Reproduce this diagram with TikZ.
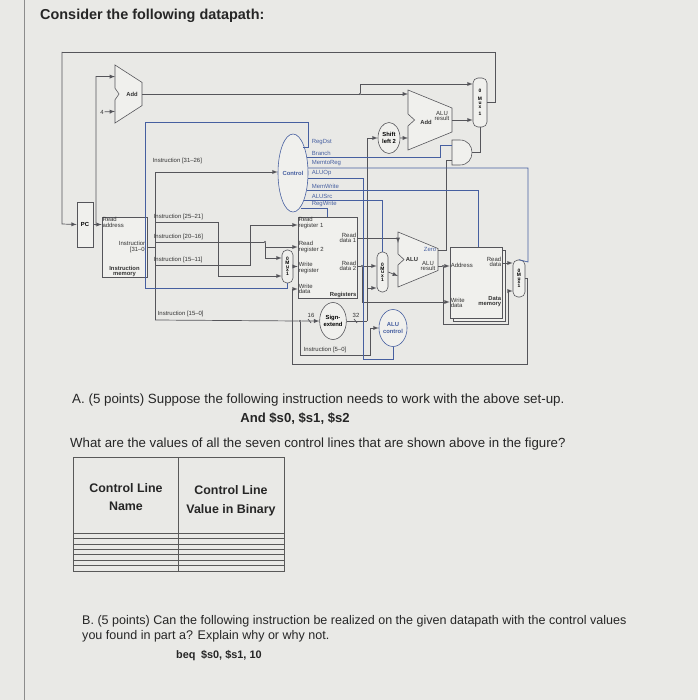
\documentclass[tikz,border=0pt]{standalone}
\usepackage{fontspec}
\setmainfont{Liberation Sans}
\usetikzlibrary{positioning,shapes.geometric}
\newcommand\pxl{0.3mm}
\newcommand\aluShape[5]{%
  \draw[unit] (#2,#3) -- (#4,{#3+0.3*(#5-#3)}) -- (#4,{#5-0.3*(#5-#3)}) -- (#2,#5)
    -- (#2,{#3+0.6*(#5-#3)}) -- ({#2+0.15*(#4-#2)},{0.5*(#3+#5)}) -- (#2,{#3+0.4*(#5-#3)}) -- cycle;
  \coordinate (#1-a) at (#2,{#3+0.2*(#5-#3)});
  \coordinate (#1-b) at (#2,{#3+0.8*(#5-#3)});
  \coordinate (#1-o) at (#4,{0.5*(#3+#5)});
  \coordinate (#1-s) at ({0.5*(#2+#4)},{#5-0.15*(#5-#3)});}
\definecolor{paper}{RGB}{233,233,230}
\definecolor{wire}{RGB}{85,85,90}
\definecolor{ctl}{RGB}{70,95,160}
\tikzset{
  unit/.style={draw=wire, line width=0.5pt, fill=paper!70!white},
  wr/.style={draw=wire, line width=0.6pt, -latex},
  wn/.style={draw=wire, line width=0.6pt},
  cs/.style={draw=ctl, line width=0.6pt},
  box/.style={unit, rectangle, inner sep=0pt},
  blob/.style={unit, ellipse, inner sep=0pt, font=\fontsize{5}{5.4}\selectfont\bfseries, align=center},
  mux/.style={unit, rectangle, rounded corners=5*\pxl, inner sep=0pt, minimum width=11*\pxl,
    font=\fontsize{4.2}{4.5}\selectfont\bfseries, align=center},
  lbl/.style={font=\fontsize{5.1}{5.4}\selectfont, text=black!80, inner sep=0.5pt},
  clbl/.style={lbl, text=ctl, anchor=south west},
  dot/.style={circle, fill=wire, inner sep=0pt, minimum size=2.2*\pxl},
  txt/.style={anchor=west, inner sep=0pt, text=black!85}
}
\begin{document}
\begin{tikzpicture}[x=\pxl, y=-\pxl]
    \fill[paper] (0,0) rectangle (698,700);
    \useasboundingbox (0,0) rectangle (698,700);
    \draw[black!45, line width=0.8pt] (24,0) -- (24,700);

    \node[txt, font=\fontsize{12.3}{14}\selectfont\bfseries] (title) at (40,16) {Consider the following datapath:};

    % blocks
    \node[box, minimum width=16*\pxl, minimum height=45*\pxl, font=\fontsize{5}{5.4}\selectfont\bfseries] (pc) at (85,224.5) {PC};
    \node[box, minimum width=45*\pxl, minimum height=60*\pxl] (imem) at (124.5,247) {};
    \node[lbl, anchor=north west, align=left] at (imem.north west) {Read\\[-1pt]address};
    \node[lbl, anchor=east, align=right] at (imem.east) {Instruction\\[-1pt]{[31--0]}};
    \node[lbl, anchor=south, align=center, font=\fontsize{5}{5.4}\selectfont\bfseries] at (imem.south) {Instruction\\[-1pt]memory};
    \node[box, minimum width=59*\pxl, minimum height=81*\pxl] (regs) at (327.5,257.5) {};
    \node[lbl, anchor=north west, align=left] at (regs.north west) {Read\\[-1pt]register 1};
    \node[lbl, anchor=west, align=left] at (298,247) {Read\\[-1pt]register 2};
    \node[lbl, anchor=west, align=left] at (298,268) {Write\\[-1pt]register};
    \node[lbl, anchor=west, align=left] at (298,289) {Write\\[-1pt]data};
    \node[lbl, anchor=east, align=right] at (357,238) {Read\\[-1pt]data 1};
    \node[lbl, anchor=east, align=right] at (357,266) {Read\\[-1pt]data 2};
    \node[lbl, anchor=south east, font=\fontsize{5}{5.4}\selectfont\bfseries] at (regs.south east) {Registers};
    \draw[unit] (453,250) rectangle (505,321);
    \node[box, minimum width=52*\pxl, minimum height=71*\pxl] (dmem) at (476,282.5) {};
    \node[lbl, anchor=west] at (450,265) {Address};
    \node[lbl, anchor=east, align=right] at (502,262) {Read\\[-1pt]data};
    \node[lbl, anchor=west, align=left] at (450,303) {Write\\[-1pt]data};
    \node[lbl, anchor=east, align=right, font=\fontsize{5}{5.4}\selectfont\bfseries] at (502,302) {Data\\[-1pt]memory};

    \node[blob, draw=ctl, minimum width=30*\pxl, minimum height=78*\pxl, text=ctl] (ctrl) at (293,173) {Control};
    \node[blob, minimum width=25*\pxl, minimum height=37*\pxl] (sext) at (333,321) {Sign-\\extend};
    \node[blob, minimum width=22*\pxl, minimum height=31*\pxl] (shl) at (389,138) {Shift\\left 2};
    \node[blob, draw=ctl, minimum width=27*\pxl, minimum height=37*\pxl, text=ctl] (aluc) at (393,328) {ALU\\control};

    \node[mux, minimum height=33*\pxl] (mreg) at (287.5,266.5) {0\\[-1pt]M\\[-1.5pt]u\\[-1.5pt]x\\[-1pt]1};
    \node[mux, minimum height=40*\pxl] (msrc) at (382.5,272) {0\\[-1pt]M\\[-1.5pt]u\\[-1.5pt]x\\[-1pt]1};
    \node[mux, minimum height=37*\pxl, minimum width=12*\pxl] (mmem) at (519,278.5) {0\\[-1pt]M\\[-1.5pt]u\\[-1.5pt]x\\[-1pt]1};
    \node[mux, minimum height=49*\pxl, minimum width=14*\pxl] (mpc) at (480,102.5) {0\\[2pt]M\\[-1pt]u\\[-1pt]x\\[2pt]1};

    \aluShape{addpc}{115}{65}{142}{123}
    \node[lbl, font=\fontsize{5}{5.4}\selectfont\bfseries] at (132,94) {Add};
    \aluShape{addbr}{408}{90}{452}{150}
    \node[lbl, font=\fontsize{5}{5.4}\selectfont\bfseries] at (426,122) {Add};
    \node[lbl, align=center] at (442,116) {ALU\\[-1pt]result};
    \aluShape{alu}{398}{232}{438}{287}
    \node[lbl, font=\fontsize{5}{5.4}\selectfont\bfseries] at (412,260) {ALU};
    \node[lbl, align=center] at (428,266) {ALU\\[-1pt]result};
    \node[lbl, text=ctl] at (430,249) {Zero};
    \draw[unit] (452,140) -- (460,140) .. controls (476,140) and (476,165) .. (460,165) -- (452,165) -- cycle;
    \coordinate (andg) at (472,152.5);

    % instruction path
    \node[lbl] (four) at (102,112) {4};
    \draw[wr] (62,52) coordinate (tl) -- (62,224) -- (pc.west);
    \draw[wr] (pc.east) -- (imem.west |- pc.east);
    \node[dot] (pcj) at (96,224.5) {};
    \draw[wr] (pcj) -- (96,76.6) -- (addpc-a);
    \draw[wr] (four) -- (addpc-b);
    \draw[wn] (addpc-o) -- (360,94);
    \node[dot] (pc4) at (360,94) {};
    \draw[wr] (pc4) -- (360,84) -- (mpc.west |- 0,84);
    \draw[wr] (pc4) -- (addbr-a |- pc4);
    \draw[wr] (addbr-o) -- (mpc.west |- addbr-o);
    \draw[wn] (mpc.east) -- (495,102.5) -- (495,52) -- (tl);

    \draw[wn] (imem.east) -- (155,247);
    \draw[wn] (155,172) -- (155,320);
    \draw[wr] (155,172) -- (ctrl.west |- 0,172);
    \node[lbl, anchor=south west] at (152,165) {Instruction [31--26]};
    \draw[wr] (155,222) -- (218,222) -- (218,276) -- (mreg.west |- 0,276);
    \node[lbl, anchor=south west] at (153,221) {Instruction [25--21]};
    \node[dot] (i2016) at (265,242) {};
    \draw[wr] (155,242) -- (i2016) -- (265,247) -- (regs.west |- 0,247);
    \draw[wr] (i2016) -- (265,258) -- (mreg.west |- 0,258);
    \node[lbl, anchor=south west] at (153,241) {Instruction [20--16]};
    \draw[wr] (155,265) -- (250,265) -- (250,225) -- (regs.west |- 0,225);
    \node[lbl, anchor=south west] at (153,264) {Instruction [15--11]};
    \draw[wr] (mreg.east) -- (regs.west |- mreg.east);
    \node[dot] (i150) at (300,321) {};
    \draw[wr] (155,320) -- (i150) -- (sext.west);
    \node[lbl, anchor=south west] at (157,318) {Instruction [15--0]};
    \node[lbl] at (311,315) {16};
    \draw[wn] (308,319) -- (311,323);
    \draw[wr] (i150) -- (300,355) -- (370,355) -- (370,328) -- (aluc.west);
    \node[lbl, anchor=south west] at (303,354) {Instruction [5--0]};

    % data path
    \draw[wn] (sext.east) -- (367,321);
    \node[lbl] at (356,315) {32};
    \draw[wn] (354,319) -- (357,323);
    \draw[wr] (367,321) -- (367,288) -- (msrc.west |- 0,288);
    \draw[wr] (367,288) -- (367,138) -- (shl.west);
    \draw[wr] (shl.east) -- (addbr-b);
    \draw[wr] (regs.east |- 0,238) -- (398,238) -- (alu-a);
    \node[dot] (rd2) at (362,266) {};
    \draw[wr] (regs.east |- rd2) -- (rd2) -- (msrc.west |- rd2);
    \draw[wr] (rd2) -- (362,302) -- (dmem.west |- 0,302);
    \draw[wr] (msrc.east) -- (alu-b);
    \node[dot] (res) at (443,266) {};
    \draw[wr] (438,266) -- (res) -- (dmem.west |- res);
    \draw[wr] (res) -- (443,324) -- (508,324) -- (508,291) -- (mmem.west |- 0,291);
    \draw[wr] (dmem.east |- 0,263) -- (mmem.west |- 0,263);
    \draw[wr] (mmem.east) -- (527,278.5) -- (527,364) -- (292,364) -- (292,289) -- (regs.west |- 0,289);
    \draw[wn] (438,250) -- (446,250) -- (446,160) -- (452,160);
    \draw[wn] (andg) -- (480,152.5) -- (mpc.south);

    % control lines
    \draw[cs] (303,147) -- (308,147) -- (308,122) -- (145,122) -- (145,288) -- (287.5,288) -- (mreg.south);
    \draw[cs] (306.5,157) -- (440,157) -- (440,145) -- (452,145);
    \draw[cs] (308,168) -- (528,168) -- (528,262) -- (mmem.north);
    \draw[cs] (308,178) -- (363,178) -- (363,359) -- (393,359) -- (aluc.south);
    \draw[cs] (306.5,190) -- (478,190) -- (dmem.north -| 478,0);
    \draw[cs] (304,200) -- (382.5,200) -- (msrc.north);
    \draw[cs] (300.5,208) -- (327.5,208) -- (regs.north);
    \node[clbl] at (311,146) {RegDst};
    \node[clbl] at (311,156) {Branch};
    \node[clbl] at (311,167) {MemtoReg};
    \node[clbl] at (311,177) {ALUOp};
    \node[clbl] at (311,189) {MemWrite};
    \node[clbl] at (311,199) {ALUSrc};
    \node[clbl] at (311,207.5) {RegWrite};

    % question text
    \node[txt, font=\fontsize{11.4}{13}\selectfont] (qa) at (72,400) {A. (5 points) Suppose the following instruction needs to work with the above set-up.};
    \node[font=\fontsize{11.2}{13}\selectfont\bfseries, text=black!85] (regsq) at (295,419) {And \$s0, \$s1, \$s2};
    \node[txt, font=\fontsize{11.3}{13}\selectfont] (qa2) at (70,444) {What are the values of all the seven control lines that are shown above in the figure?};

    \draw[black!65, line width=0.5pt] (73,457) rectangle (284,571);
    \draw[black!65, line width=0.5pt] (178,457) -- (178,571);
    \foreach \r in {0,...,6}
        \draw[black!65, line width=0.4pt] (73,533+\r*5.4) -- (284,533+\r*5.4);
    \node[align=center, font=\fontsize{10.6}{16}\selectfont\bfseries, text=black!85] (h1) at (126,497) {Control Line\\Name};
    \node[align=center, font=\fontsize{10.6}{16}\selectfont\bfseries, text=black!85] (h2) at (231,501) {Control Line\\Value in Binary};

    \node[txt, font=\fontsize{10.7}{13}\selectfont] (qb) at (82,621) {B. (5 points) Can the following instruction be realized on the given datapath with the control values};
    \node[txt, font=\fontsize{10.7}{13}\selectfont] (qb2) at (82,636) {you found in part a? Explain why or why not.};
    \node[txt, font=\fontsize{9.3}{12}\selectfont\bfseries] (beq) at (176,656) {beq\enspace\$s0, \$s1, 10};
\end{tikzpicture}
\end{document}
